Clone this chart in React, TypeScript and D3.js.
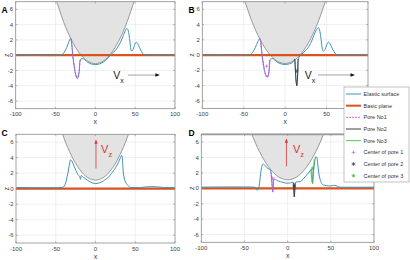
import React from 'react';
import * as d3 from 'd3';

type Pt = [number, number];

const xTicks = [-100, -50, 0, 50, 100];
const zTicks = [-6, -4, -2, 0, 2, 4, 6];
const gridX = [-50, 0, 50];

const legendLabels = ['Elastic surface', 'Basic plane', 'Pore No1', 'Pore No2', 'Pore No3', 'Center of pore 1', 'Center of pore 2', 'Center of pore 3'];

// indenter profiles (A,B: lower position; C,D: raised position)
const indenterLow: Pt[] = [[-56, 9.7], [-50, 7.5], [-45, 5.9], [-40, 4.4], [-35, 3.1], [-30, 2.0], [-25, 1.05], [-20, 0.28], [-15, -0.33], [-10, -0.76], [-5, -1.01], [0, -1.1], [5, -1.01], [10, -0.76], [15, -0.33], [20, 0.28], [25, 1.05], [30, 2.0], [35, 3.1], [40, 4.4], [45, 5.9], [50, 7.5], [56, 9.7]];
const indenterHigh: Pt[] = [[-50, 9.7], [-45, 8.1], [-40, 6.6], [-35, 5.3], [-30, 4.2], [-25, 3.25], [-20, 2.48], [-15, 1.87], [-10, 1.44], [-5, 1.19], [0, 1.1], [5, 1.19], [10, 1.44], [15, 1.87], [20, 2.48], [25, 3.25], [30, 4.2], [35, 5.3], [40, 6.6], [45, 8.1], [50, 9.7]];

const surfaceA: Pt[] = [[-100, 0.08], [-42, 0.08], [-39, 0.4], [-36, 1.0], [-33.5, 1.7], [-31, 2.2], [-29.6, 1.5], [-28.5, 0.1], [-26.5, -1.5], [-24.5, -2.6], [-22.7, -3.05], [-21, -2.6], [-20, -1.8], [-19.3, -0.8], [-18, -0.5], [-15, -0.46], [-10, -0.9], [-5, -1.15], [0, -1.23], [5, -1.15], [10, -0.9], [15, -0.46], [18, -0.1], [20, 0.12], [23, 0.4], [26, 0.75], [29, 1.2], [32, 1.8], [35, 2.55], [37.5, 3.2], [39.5, 3.5], [41, 3.3], [42.5, 2.5], [44, 1.2], [45, 0.6], [46.5, 0.6], [48.5, 1.1], [51, 1.7], [53, 1.55], [55.5, 1.0], [58, 0.45], [60.5, 0.1], [62, 0.05], [100, 0.05]];
const pore1A: Pt[] = [[-30.6, 2.1], [-29.5, 1.2], [-28.5, 0.1], [-27, -1.1], [-25.5, -2.1], [-24, -2.8], [-22.7, -3.07], [-21.3, -2.7], [-20.3, -2.0], [-19.6, -1.2], [-19.2, -0.6]];

const surfaceB: Pt[] = [[-100, 0.08], [-42, 0.08], [-39, 0.4], [-36, 1.0], [-33, 1.75], [-30.4, 2.16], [-29, 1.3], [-28, 0.2], [-26, -1.3], [-24, -2.4], [-21.5, -2.9], [-20, -2.5], [-19, -1.6], [-18.3, -0.6], [-15, -0.46], [-10, -0.9], [-5, -1.15], [0, -1.23], [5, -1.15], [9, -0.95], [11.5, -0.55], [12.3, -1.8], [13.2, -3.4], [14, -3.98], [14.8, -3.2], [15.3, -1.8], [15.8, -0.5], [17.9, -0.1], [20, 0.12], [23, 0.4], [26, 0.75], [29, 1.2], [32, 1.85], [35, 2.65], [38, 3.35], [40, 3.6], [41.5, 3.3], [43, 2.4], [44.5, 1.1], [46, 0.5], [48, 0.7], [50, 1.3], [52.1, 1.7], [54, 1.5], [56.5, 0.95], [59, 0.45], [61, 0.12], [62.2, 0.05], [100, 0.05]];
const pore1B: Pt[] = [[-30, 2.0], [-29, 1.2], [-28, 0.1], [-26.5, -1.2], [-25, -2.1], [-23.3, -2.7], [-21.5, -2.9], [-20.2, -2.5], [-19.2, -1.7], [-18.6, -1.0], [-18.3, -0.55]];
const pore2B: Pt[] = [[11.5, -0.5], [12.3, -1.8], [13.2, -3.4], [14, -3.98], [14.8, -3.2], [15.3, -1.8], [15.8, -0.5]];

const surfaceC: Pt[] = [[-100, 0.15], [-42, 0.15], [-40.5, 0.2], [-38, 0.6], [-36, 1.4], [-34, 2.4], [-32.5, 3.3], [-31.2, 3.72], [-29.5, 3.5], [-27, 2.9], [-24.5, 2.3], [-22, 1.8], [-20, 1.55], [-18.8, 1.2], [-18, 1.7], [-16.5, 1.55], [-13, 1.3], [-8, 0.95], [-4, 0.75], [0, 0.66], [4, 0.72], [8, 0.88], [12, 1.15], [16, 1.45], [20, 1.95], [24, 2.5], [28, 3.2], [31, 3.9], [33, 4.29], [34, 3.6], [35, 2.0], [36.5, 1.2], [38.5, 0.7], [41, 0.4], [43, 0.18], [45, 0.15], [58, 0.15], [62, 0.22], [70, 0.25], [80, 0.22], [85, 0.15], [100, 0.15]];

const surfaceD: Pt[] = [[-100, 0.15], [-40, 0.15], [-37, 0.1], [-35.8, -0.22], [-34, -0.15], [-33, 0.3], [-32, 1.2], [-30.5, 2.5], [-29, 3.1], [-28.2, 3.16], [-26, 2.9], [-23, 2.6], [-20.4, 2.4], [-19.2, 2.0], [-18, 0.5], [-17.3, -0.44], [-16.6, 0.4], [-15.8, 1.2], [-12, 1.0], [-8.5, 0.87], [-4, 0.72], [-1, 0.66], [3, 0.7], [5.5, 0.8], [6.6, 0.7], [7.2, -0.3], [7.7, -1.1], [8.2, -0.3], [8.8, 0.7], [11, 0.85], [14.3, 0.87], [18, 1.2], [21, 1.6], [24, 1.97], [26, 2.3], [27.5, 2.5], [28.3, 1.5], [28.8, 0.7], [29.5, 1.6], [30.3, 2.6], [31.5, 3.6], [32.8, 4.1], [34, 3.9], [35, 3.0], [36, 2.0], [37.5, 1.2], [39.5, 0.6], [41.3, 0.43], [45, 0.35], [50, 0.3], [53, 0.38], [56, 0.35], [59, 0.18], [62, 0.15], [100, 0.15]];
const pore1D: Pt[] = [[-19.4, 2.1], [-18.5, 1.0], [-17.8, 0.0], [-17.3, -0.44], [-16.7, 0.3], [-16.2, 1.0], [-15.8, 1.4]];
const pore2D: Pt[] = [[6.4, 0.75], [7.0, 0.0], [7.7, -1.1], [8.3, -0.1], [8.9, 0.7]];
const pore3D: Pt[] = [[26.8, 2.4], [27.6, 1.6], [28.3, 0.8], [28.8, 0.66], [29.3, 1.3], [29.8, 2.3], [30.3, 3.1], [30.8, 3.7]];

const centersB: Pt[] = [[-22.3, -1.45], [14, -2.1]];
const centersD: Pt[] = [[-17.8, 1.3], [7.7, 0.3], [28.9, 2.6]];

const C_SURF = '#3f93b4';
const C_PLANE = '#d9531e';
const C_P1 = '#e04ae0';
const C_P2 = '#3a3a3a';
const C_P3 = '#3fbf3f';
const C_VZ = '#d8343a';
const FONT = 'Liberation Sans, Arial, sans-serif';

type Box = { l: number; r: number; t: number; b: number };

function Marker({ cx, cy, kind, color }: { cx: number; cy: number; kind: string; color: string }) {
  const s = 1.8;
  if (kind === '+') {
    return <g stroke={color} strokeWidth={0.7}><line x1={cx - s} x2={cx + s} y1={cy} y2={cy} /><line x1={cx} x2={cx} y1={cy - s} y2={cy + s} /></g>;
  }
  const d = s * 0.72;
  return <g stroke={color} strokeWidth={0.7}><line x1={cx - s} x2={cx + s} y1={cy} y2={cy} /><line x1={cx} x2={cx} y1={cy - s} y2={cy + s} /><line x1={cx - d} x2={cx + d} y1={cy - d} y2={cy + d} /><line x1={cx - d} x2={cx + d} y1={cy + d} y2={cy - d} /></g>;
}

type PanelProps = {
  id: string; box: Box; indenter: Pt[]; surface: Pt[];
  pores: { pts: Pt[]; color: string; dash?: string }[];
  centers: { p: Pt; kind: string; color: string }[];
  arrow: { kind: 'x' | 'z'; from: Pt; to: Pt; label: Pt };
  thickTop?: boolean; labelPos: [number, number]; zLabelX: number;
  hiddenXTicks?: number[];
};

function Panel(p: PanelProps) {
  const { box } = p;
  const x = d3.scaleLinear().domain([-100, 100]).range([box.l, box.r]);
  const y = d3.scaleLinear().domain([-7, 7]).range([box.b, box.t]);
  const curve = d3.curveCatmullRom.alpha(0.5);
  const line = d3.line<Pt>().x(d => x(d[0])).y(d => y(d[1])).curve(curve);
  const area = d3.area<Pt>().x(d => x(d[0])).y0(y(14)).y1(d => y(d[1])).curve(curve);
  const clipId = 'clip' + p.id;
  const a = p.arrow;
  const hidden = p.hiddenXTicks || [];
  let arrowEl: React.ReactNode;
  if (a.kind === 'x') {
    const x1 = x(a.from[0]), x2 = x(a.to[0]), yy = y(a.from[1]);
    arrowEl = <g>
      <line x1={x1} x2={x2 - 3} y1={yy} y2={yy} stroke="#9a9a9a" strokeWidth={0.9} />
      <path d={`M${x2},${yy} L${x2 - 4.5},${yy - 1.7} L${x2 - 4.5},${yy + 1.7} Z`} fill="#111" />
      <text x={x(a.label[0])} y={y(a.label[1]) + 3.5} fontSize={10.5} fill="#222" fontFamily={FONT} textAnchor="middle">V<tspan fontSize={7} dy={3.5}>x</tspan></text>
    </g>;
  } else {
    const xx = x(a.from[0]), y1 = y(a.from[1]), y2 = y(a.to[1]);
    arrowEl = <g>
      <line x1={xx} x2={xx} y1={y1} y2={y2 + 3} stroke={C_VZ} strokeWidth={0.8} />
      <path d={`M${xx},${y2} L${xx - 1.6},${y2 + 4.5} L${xx + 1.6},${y2 + 4.5} Z`} fill={C_VZ} />
      <text x={x(a.label[0])} y={y(a.label[1]) + 3.5} fontSize={11} fill={C_VZ} fontFamily={FONT} textAnchor="middle">V<tspan fontSize={7.5} dy={4}>z</tspan></text>
    </g>;
  }
  return (
    <g>
      <defs><clipPath id={clipId}><rect x={box.l} y={box.t} width={box.r - box.l} height={box.b - box.t} /></clipPath></defs>
      <rect x={box.l} y={box.t} width={box.r - box.l} height={box.b - box.t} fill="#fff" />
      <g stroke="#e6e6e6" strokeWidth={0.6}>
        {gridX.map(v => <line key={'gx' + v} x1={x(v)} x2={x(v)} y1={box.t} y2={box.b} />)}
        {zTicks.map(v => <line key={'gz' + v} x1={box.l} x2={box.r} y1={y(v)} y2={y(v)} />)}
      </g>
      <g clipPath={`url(#${clipId})`}>
        <path d={area(p.indenter) || ''} fill="#e3e3e3" />
        <path d={line(p.indenter) || ''} fill="none" stroke="#8f8f8f" strokeWidth={0.9} />
        <line x1={box.l} x2={box.r} y1={y(0)} y2={y(0)} stroke={C_PLANE} strokeWidth={2.3} />
        <path d={line(p.surface) || ''} fill="none" stroke={C_SURF} strokeWidth={1} />
        {p.pores.map((pr, i) => <path key={'p' + i} d={line(pr.pts) || ''} fill="none" stroke={pr.color} strokeWidth={0.9} strokeDasharray={pr.dash} />)}
        {p.pores.map((pr, i) => pr.pts.filter((_, j) => j % 2 === 1).map((q, j) => <circle key={'d' + i + '_' + j} cx={x(q[0])} cy={y(q[1])} r={0.55} fill={pr.color} />))}
        {p.centers.map((c, i) => <Marker key={'c' + i} cx={x(c.p[0])} cy={y(c.p[1])} kind={c.kind} color={c.color} />)}
        {arrowEl}
      </g>
      <rect x={box.l} y={box.t} width={box.r - box.l} height={box.b - box.t} fill="none" stroke="#8a8a8a" strokeWidth={0.8} />
      {p.thickTop && <line x1={box.l} x2={box.r} y1={box.t} y2={box.t} stroke="#9a9a9a" strokeWidth={1.8} />}
      <g stroke="#8a8a8a" strokeWidth={0.6}>
        {xTicks.map(v => <g key={'tx' + v}><line x1={x(v)} x2={x(v)} y1={box.b} y2={box.b - 1.8} /><line x1={x(v)} x2={x(v)} y1={box.t} y2={box.t + 1.8} /></g>)}
        {zTicks.map(v => <g key={'tz' + v}><line x1={box.l} x2={box.l + 1.8} y1={y(v)} y2={y(v)} /><line x1={box.r} x2={box.r - 1.8} y1={y(v)} y2={y(v)} /></g>)}
      </g>
      <g fontFamily={FONT} fontSize={6} fill="#404040">
        {xTicks.filter(v => !hidden.includes(v)).map(v => <text key={'lx' + v} x={x(v)} y={box.b + 7.5} textAnchor="middle">{String(v)}</text>)}
        {zTicks.map(v => <text key={'lz' + v} x={box.l - 2.5} y={y(v) + 2.1} textAnchor="end">{String(v)}</text>)}
        <text x={(box.l + box.r) / 2} y={box.b + 15.5} textAnchor="middle" fontSize={7}>x</text>
        <text transform={`translate(${p.zLabelX},${y(0)}) rotate(-90)`} textAnchor="middle" fontSize={7} dy={2}>z</text>
      </g>
      <text x={p.labelPos[0]} y={p.labelPos[1]} fontFamily={FONT} fontWeight="bold" fontSize={8.5} fill="#000">{p.id}</text>
    </g>
  );
}

function Legend() {
  const x0 = 344, y0 = 87, w = 65, h = 95;
  const rowY = (i: number) => 94 + i * 11.67;
  const lineStyles = [
    { c: C_SURF, w: 1, dash: undefined },
    { c: C_PLANE, w: 2, dash: undefined },
    { c: C_P1, w: 0.9, dash: '2,1' },
    { c: '#777', w: 1.4, dash: undefined },
    { c: C_P3, w: 0.9, dash: undefined },
  ];
  const marks = [{ k: '+', c: C_P1 }, { k: '*', c: C_P2 }, { k: '*', c: C_P3 }];
  return (
    <g>
      <rect x={x0} y={y0} width={w} height={h} fill="#fff" stroke="#9a9a9a" strokeWidth={0.6} />
      {legendLabels.map((t, i) => (
        <g key={t}>
          {i < 5 ? <line x1={346} x2={361} y1={rowY(i)} y2={rowY(i)} stroke={lineStyles[i].c} strokeWidth={lineStyles[i].w} strokeDasharray={lineStyles[i].dash} />
            : <Marker cx={353.5} cy={rowY(i)} kind={marks[i - 5].k} color={marks[i - 5].c} />}
          <text x={363.5} y={rowY(i) + 1.9} fontFamily={FONT} fontSize={5.5} fill="#333">{t}</text>
        </g>
      ))}
    </g>
  );
}

export default function App() {
  return (
    <svg width={410} height={260} style={{ position: 'absolute', left: 0, top: 0, background: '#fff' }} xmlns="http://www.w3.org/2000/svg">
      <rect width={410} height={260} fill="#fff" />
      <Panel id="A" box={{ l: 15.7, r: 175, t: 1.7, b: 108.7 }} indenter={indenterLow} surface={surfaceA}
        pores={[{ pts: pore1A, color: C_P1, dash: '2,1' }]} centers={[]}
        arrow={{ kind: 'x', from: [41, -2.6], to: [81, -2.6], label: [29, -2.7] }} labelPos={[1.5, 13]} zLabelX={7} />
      <Panel id="B" box={{ l: 202.3, r: 368, t: 1.7, b: 108.5 }} indenter={indenterLow} surface={surfaceB}
        pores={[{ pts: pore1B, color: C_P1, dash: '2,1' }, { pts: pore2B, color: C_P2 }]}
        centers={[{ p: centersB[0], kind: '+', color: C_P1 }, { p: centersB[1], kind: '+', color: C_P2 }]}
        arrow={{ kind: 'x', from: [39.7, -2.6], to: [84.3, -2.6], label: [30, -2.7] }} labelPos={[188.5, 13]} zLabelX={192}
        hiddenXTicks={[100]} />
      <Panel id="C" box={{ l: 16, r: 175, t: 134.3, b: 243 }} indenter={indenterHigh} surface={surfaceC}
        pores={[]} centers={[]}
        arrow={{ kind: 'z', from: [0.6, 2.6], to: [0.6, 6.35], label: [14, 5.0] }} labelPos={[1.5, 136]} zLabelX={7} />
      <Panel id="D" box={{ l: 201.3, r: 374, t: 134.3, b: 242.3 }} indenter={indenterHigh} surface={surfaceD}
        pores={[{ pts: pore1D, color: C_P1, dash: '2,1' }, { pts: pore2D, color: C_P2 }, { pts: pore3D, color: C_P3 }]}
        centers={[{ p: centersD[0], kind: '+', color: C_P1 }, { p: centersD[1], kind: '*', color: C_P2 }, { p: centersD[2], kind: '*', color: C_P3 }]}
        arrow={{ kind: 'z', from: [-1.4, 2.85], to: [-1.4, 6.5], label: [12.5, 5.0] }} thickTop labelPos={[188.5, 136]} zLabelX={192} />
      <Legend />
    </svg>
  );
}
